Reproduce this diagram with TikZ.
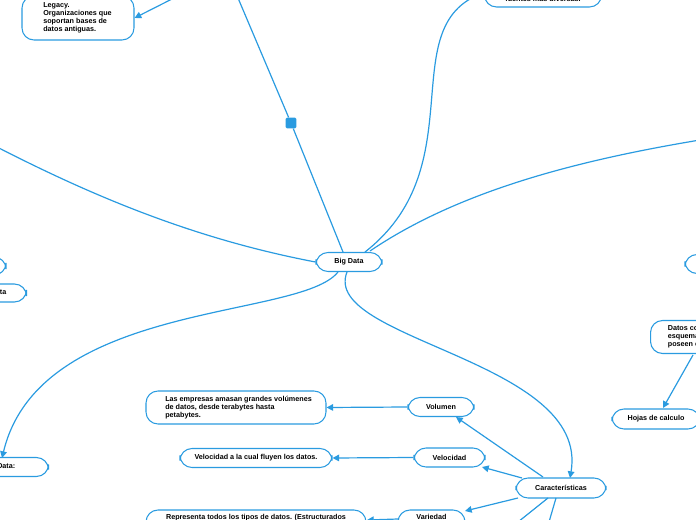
\documentclass[tikz,border=0pt]{standalone}
\usepackage{fontspec}
\setmainfont{Liberation Sans}
\usetikzlibrary{arrows.meta}
\definecolor{mb}{HTML}{2A9BE0}
\begin{document}
\begin{tikzpicture}[x=0.75pt,y=-0.75pt,
  box/.style={draw=mb,line width=0.8pt,rounded corners=9pt,fill=white,inner sep=0pt,font=\bfseries\fontsize{5.4}{6}\selectfont},
  con/.style={draw=mb,line width=0.9pt},
  arr/.style={con,-{Triangle[length=5pt,width=5pt]}}]
\useasboundingbox (0,0) rectangle (696,520);
\clip (0,0) rectangle (696,520);
% nodes
\node[box,minimum width=66pt*0.75,minimum height=19*0.75pt] (bd) at (349,262) {Big Data};
\node[box,minimum width=112*0.75pt,minimum height=44*0.75pt] (leg) at (78,18) {\hspace*{14pt}\raisebox{-2pt}{\parbox{66pt}{Legacy.\\Organizaciones que\\soportan bases de\\datos antiguas.}}};
\node[box,minimum width=117*0.75pt,minimum height=24*0.75pt,align=left] (top) at (543,-5) {\phantom{fuentes}\\fuentes más diversas.};
\node[fill=mb,rounded corners=1pt,minimum size=8pt,inner sep=0pt] (sq) at (291,123) {};
\coordinate (t1) at (238,-2);
\coordinate (l1) at (-5,146);
\coordinate (r1) at (700,140);
\node[box,minimum width=40*0.75pt,minimum height=18*0.75pt] (lb1) at (-14,266) {};
\node[box,minimum width=60*0.75pt,minimum height=18*0.75pt,anchor=east] (lb2) at (27,293) {Big Data\hspace*{7pt}};
\node[box,minimum width=90*0.75pt,minimum height=19*0.75pt,anchor=east] (lb3) at (49,467) {Big Data:\hspace*{6pt}};
\node[box,minimum width=40*0.75pt,minimum height=19*0.75pt] (rb1) at (705,264) {};
\node[box,minimum width=80*0.75pt,minimum height=33*0.75pt,anchor=west] (rb2) at (650,337) {\hspace*{13pt}\parbox{60pt}{Datos con\\esquema\\poseen c}};
\node[box,minimum width=88*0.75pt,minimum height=20*0.75pt] (hoj) at (656,419) {Hojas de calculo};
\node[box,minimum width=90*0.75pt,minimum height=20*0.75pt] (car) at (561,488) {Características};
\node[box,minimum width=66*0.75pt,minimum height=19*0.75pt] (vol) at (441,407) {Volumen};
\node[box,minimum width=180*0.75pt,minimum height=33*0.75pt] (vold) at (236,407.5) {\hspace*{6pt}\parbox{112pt}{Las empresas amasan grandes volúmenes\\de datos, desde terabytes hasta\\petabytes.}};
\node[box,minimum width=71*0.75pt,minimum height=19*0.75pt] (vel) at (449.5,457.5) {Velocidad};
\node[box,minimum width=152*0.75pt,minimum height=19*0.75pt] (veld) at (256,458) {Velocidad a la cual fluyen los datos.};
\node[box,minimum width=67*0.75pt,minimum height=22*0.75pt,align=center] (var) at (431.5,521) {Variedad\\\phantom{V}};
\node[box,minimum width=220*0.75pt,minimum height=30*0.75pt,align=left] (vard) at (256,525) {Representa todos los tipos de datos. (Estructurados\\\phantom{R}\\\phantom{R}};
\coordinate (b1) at (518,522);
\coordinate (b2) at (549,522);
% connectors
\draw[con] (343,252) -- (sq) -- (t1);
\draw[arr] (172,-1) -- (leg.east);
\draw[con] (365,252) .. controls (470,170) and (400,40) .. (470,-1);
\draw[con] (bd.west) .. controls (200,240) and (100,200) .. (l1);
\draw[con] (370,251) .. controls (460,190) and (580,160) .. (r1);
\draw[arr] (338,272) .. controls (300,320) and (40,300) .. (2,458);
\draw[arr] (347,272) .. controls (320,340) and (590,360) .. (570,478);
\draw[arr] (693,355) -- (663,408);
\draw[arr] (543,477) -- (456,417);
\draw[arr] (vol.west) -- (vold.east);
\draw[arr] (522,478) -- (482,467);
\draw[arr] (vel.west) -- (veld.east);
\draw[arr] (518,498) -- (465,511);
\draw[arr] (398,519) -- (367,520);
\draw[con] (548,498) -- (b1);
\draw[con] (556,498) -- (b2);
\end{tikzpicture}
\end{document}
